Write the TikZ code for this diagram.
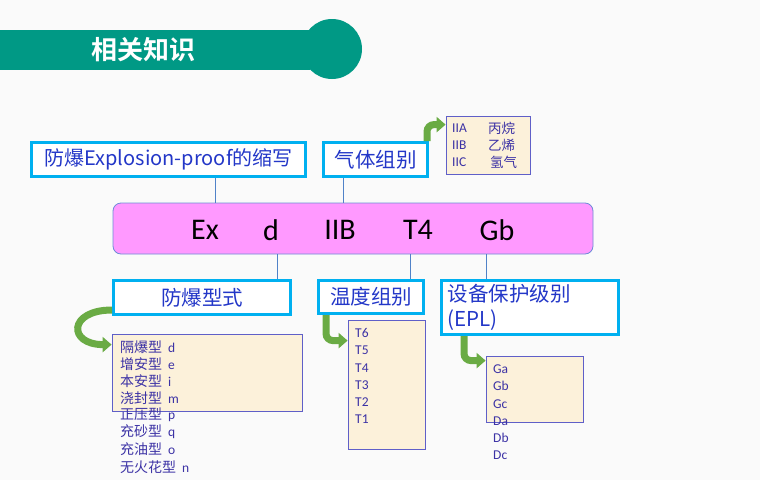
\documentclass[tikz,border=0pt]{standalone}
\usepackage{fontspec}
\setmainfont{Carlito}
\newfontfamily\cjk{Noto Sans CJK SC}[BoldFont={* Bold}]
\usetikzlibrary{arrows.meta}
\definecolor{paper}{HTML}{FAFAFA}
\definecolor{teal}{RGB}{0,153,133}
\definecolor{cyanline}{HTML}{00B0F0}
\definecolor{boxtext}{RGB}{35,55,200}
\definecolor{barfill}{HTML}{FF99FF}
\definecolor{barline}{RGB}{110,140,215}
\definecolor{beige}{HTML}{FCF1DA}
\definecolor{listline}{RGB}{95,95,200}
\definecolor{listink}{RGB}{60,50,165}
\definecolor{linkblue}{RGB}{80,130,200}
\definecolor{arrowgreen}{RGB}{106,171,68}
\tikzset{
  keybox/.style={draw=cyanline, line width=3pt, fill=white, text=boxtext, inner sep=0pt,
    font=\cjk\fontsize{20.5}{25}\selectfont},
  listbox/.style={draw=listline, line width=0.8pt, fill=beige, inner sep=0pt},
  item/.style={anchor=west, inner sep=0pt, text=listink, font=\fontsize{13.5}{15}\selectfont},
  code/.style={inner sep=0pt, font=\fontsize{30}{34}\selectfont},
  link/.style={draw=linkblue, line width=0.8pt},
  bentarrow/.style={draw=arrowgreen, line width=7pt, rounded corners=7pt,
    -{Triangle[length=9pt,width=15pt]}}
}
\begin{document}
\begin{tikzpicture}[x=1pt,y=-1pt]
\useasboundingbox (0,0) rectangle (760,480);
\fill[paper] (0,0) rectangle (760,480);
% header
\fill[teal] (0,30) rectangle (310,70);
\fill[teal] (332,49) circle (30pt);
\node[text=white, font=\cjk\bfseries\fontsize{26}{30}\selectfont] (title) at (143,50) {相关知识};
% upper boxes
\node[keybox, minimum width=274pt, minimum height=34pt, font=\cjk\fontsize{20}{24}\selectfont] (abbr) at (168.5,159.5) {防爆Explosion-proof的缩写};
\node[keybox, minimum width=104pt, minimum height=34pt] (gas) at (375.5,159.5) {气体组别};
\node[listbox, minimum width=84pt, minimum height=58pt] (glist) at (488,145) {};
\node[item] (iia) at (452,128) {IIA};
\node[item] (iib) at (452,145) {IIB};
\node[item] (iic) at (452,162) {IIC};
\node[item, font=\cjk\fontsize{13.5}{15}\selectfont] (propane) at (488,128) {丙烷};
\node[item, font=\cjk\fontsize{13.5}{15}\selectfont] (ethylene) at (488,145) {乙烯};
\node[item, font=\cjk\fontsize{13.5}{15}\selectfont] (hydrogen) at (490,162) {氢气};
% marking bar
\node[draw=barline, fill=barfill, line width=0.8pt, rounded corners=8pt, minimum width=480pt, minimum height=51pt] (bar) at (353,228.5) {};
\node[code] (ex) at (205,230) {Ex};
\node[code] (d) at (271,230) {d};
\node[code] (gr) at (340,230) {IIB};
\node[code] (t4) at (418,230) {T4};
\node[code] (gb) at (497,230) {Gb};
% lower boxes
\node[keybox, minimum width=177pt, minimum height=34pt] (ftype) at (202,297.5) {防爆型式};
\node[keybox, minimum width=105pt, minimum height=33pt] (tclass) at (371,297) {温度组别};
\node[keybox, text width=165pt, inner xsep=6pt, minimum height=54pt, align=left] (epl) at (530,307.5) {设备保护级别\\(EPL)};
% lists
\node[listbox, minimum width=190pt, minimum height=77pt] (flist) at (207,372.5) {};
\node[item] (fd) at (120,347) {{\cjk\fontsize{14}{15}\selectfont 隔爆型}\hspace{6pt}d};
\node[item] (fe) at (120,364) {{\cjk\fontsize{14}{15}\selectfont 增安型}\hspace{6pt}e};
\node[item] (fi) at (120,381) {{\cjk\fontsize{14}{15}\selectfont 本安型}\hspace{6pt}i};
\node[item] (fm) at (120,398) {{\cjk\fontsize{14}{15}\selectfont 浇封型}\hspace{6pt}m};
\node[item] (fp) at (120,415) {{\cjk\fontsize{14}{15}\selectfont 正压型}\hspace{6pt}p};
\node[item] (fq) at (120,432) {{\cjk\fontsize{14}{15}\selectfont 充砂型}\hspace{6pt}q};
\node[item] (fo) at (120,449) {{\cjk\fontsize{14}{15}\selectfont 充油型}\hspace{6pt}o};
\node[item] (fn) at (120,467) {{\cjk\fontsize{14}{15}\selectfont 无火花型}\hspace{6pt}n};
\node[listbox, minimum width=77pt, minimum height=129pt] (tlist) at (386.5,384.5) {};
\node[item] (t6) at (355,333) {T6};
\node[item] (t5) at (355,350) {T5};
\node[item] (t4l) at (355,368) {T4};
\node[item] (t3) at (355,385) {T3};
\node[item] (t2) at (355,402) {T2};
\node[item] (t1) at (355,419) {T1};
\node[listbox, minimum width=97pt, minimum height=66pt] (elist) at (534.5,389) {};
\node[item] (ga) at (493,369) {Ga};
\node[item] (gbl) at (493,386) {Gb};
\node[item] (gc) at (493,404) {Gc};
\node[item] (da) at (493,421) {Da};
\node[item] (db) at (493,438) {Db};
\node[item] (dc) at (493,455) {Dc};
% thin links
\coordinate (abbrx) at (215,0);
\coordinate (gasx) at (343,0);
\coordinate (ftypex) at (277,0);
\coordinate (tclassx) at (410,0);
\coordinate (eplx) at (486,0);
\draw[link] (abbr.south -| abbrx) -- (bar.north -| abbrx);
\draw[link] (gas.south -| gasx) -- (bar.north -| gasx);
\draw[link] (bar.south -| ftypex) -- (ftype.north -| ftypex);
\draw[link] (bar.south -| tclassx) -- (tclass.north -| tclassx);
\draw[link] (bar.south -| eplx) -- (epl.north -| eplx);
% green arrows
\draw[bentarrow] ([yshift=6pt]ftype.south west) .. controls +(-44,0) and +(-44,0) .. ([yshift=-11pt]flist.north west);
\draw[bentarrow] ([xshift=9pt]tclass.south west) |- ([yshift=-21pt]tlist.north west);
\draw[bentarrow] ([xshift=24pt]epl.south west) |- ([yshift=-5pt]elist.north west);
\draw[bentarrow] ([xshift=-2pt]gas.north east) |- ([yshift=-9pt]glist.north west);
\end{tikzpicture}
\end{document}
